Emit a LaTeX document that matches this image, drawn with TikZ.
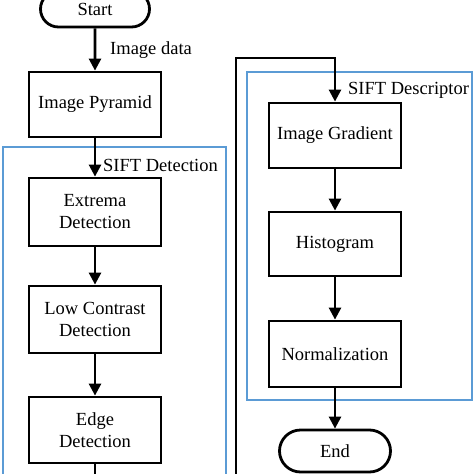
\documentclass[tikz,border=0pt]{standalone}
\usepackage{fontspec}
\setmainfont{Liberation Serif}
\usetikzlibrary{shapes.misc,arrows.meta}
\definecolor{siftblue}{RGB}{91,155,213}
\tikzset{
  stepbox/.style={draw=black, line width=2.8pt, rectangle, minimum width=132pt, align=center, font=\fontsize{18.5}{22}\selectfont, inner sep=0pt},
  termbox/.style={draw=black, line width=2.8pt, rounded rectangle, align=center, font=\fontsize{18.5}{22}\selectfont, inner sep=0pt},
  arr/.style={line width=2.6pt, -{Triangle[length=12pt,width=12pt]}},
  lbl/.style={font=\fontsize{18.5}{22}\selectfont, anchor=west, inner sep=0pt},
  group/.style={draw=siftblue, line width=2.2pt}
}
\begin{document}
\begin{tikzpicture}[x=1pt,y=-1pt]
\clip (0,0) rectangle (474,474);
\fill[white] (0,0) rectangle (474,474);
% groups
\draw[group] (3,490) -- (3,147) -- (226,147) -- (226,490);
\draw[group] (247,72) rectangle (472,400);
% nodes
\node[termbox, minimum width=109pt, minimum height=36pt] (start) at (95,9) {Start};
\node[stepbox, minimum height=65pt] (pyr) at (95,104.5) {Image Pyramid};
\node[stepbox, minimum height=68pt] (ext) at (95,212) {Extrema\\Detection};
\node[stepbox, minimum height=67pt] (low) at (95,319.5) {Low Contrast\\Detection};
\node[stepbox, minimum height=66pt] (edge) at (95,430) {Edge\\Detection};
\node[stepbox, minimum height=65pt] (grad) at (335,135.5) {Image Gradient};
\node[stepbox, minimum height=64pt] (hist) at (335,244) {Histogram};
\node[stepbox, minimum height=66pt] (norm) at (335,354) {Normalization};
\node[termbox, minimum width=111pt, minimum height=42pt] (end) at (335,451) {End};
% labels
\node[lbl] (l1) at (110,50) {Image data};
\node[lbl] (l2) at (103,165) {SIFT Detection};
\node[lbl] (l3) at (348,90) {SIFT Descriptor};
% connectors
\draw[arr] (start) -- (pyr);
\draw[arr] (pyr) -- (ext);
\draw[arr] (ext) -- (low);
\draw[arr] (low) -- (edge);
\draw[arr] (grad) -- (hist);
\draw[arr] (hist) -- (norm);
\draw[arr] (norm) -- (end);
\coordinate (c1) at (236,490);
\coordinate (c2) at (236,58);
\draw[arr] (edge.south) |- (c1) -- (c2) -| (grad.north);
\end{tikzpicture}
\end{document}
